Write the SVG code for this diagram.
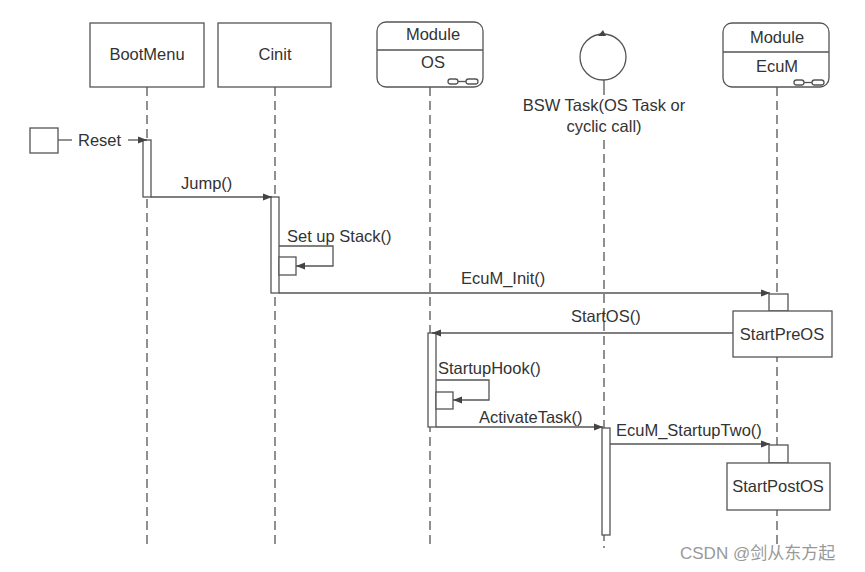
<svg xmlns="http://www.w3.org/2000/svg" width="865" height="572" viewBox="0 0 865 572">
<defs>
<style>
.b{fill:#fff;stroke:#555;stroke-width:1.3}
.l{fill:none;stroke:#555;stroke-width:1.3}
.d{fill:none;stroke:#555;stroke-width:1.3;stroke-dasharray:9,5}
.a{fill:none;stroke:#555;stroke-width:1.3;marker-end:url(#ar)}
text{font-family:"Liberation Sans",Arial,sans-serif;font-size:16.5px;fill:#333}
.c{text-anchor:middle}
</style>
<marker id="ar" viewBox="0 0 10 10" refX="10" refY="5" markerWidth="7" markerHeight="7" orient="auto"><path d="M0,1 L10,5 L0,9 z" fill="#444"/></marker>
</defs>
<rect width="865" height="572" fill="#fff"/>
<g id="lifelines">
<path class="d" d="M147,87V548M275,87V548M430,87V548M777,87V548M604,140V548"/>
<path class="l" d="M604,80V95"/>
</g>
<g id="bootmenu"><rect class="b" x="90" y="23" width="114" height="64"/><text class="c" x="147" y="60">BootMenu</text></g>
<g id="cinit"><rect class="b" x="218" y="23" width="113" height="64"/><text class="c" x="275" y="60">Cinit</text></g>
<g id="os"><rect class="b" x="377" y="22" width="106" height="65" rx="9"/><path class="l" d="M377,50H483"/><text class="c" x="433" y="40">Module</text><text class="c" x="433" y="68">OS</text><rect class="l" x="448" y="79" width="10" height="5" rx="2.5"/><rect class="l" x="466" y="79" width="12" height="5" rx="2.5"/><path class="l" d="M458,81.5H466"/></g>
<g id="bsw"><circle class="l" cx="603" cy="57" r="23"/><path d="M598,36 L603,30 L606,36 z" fill="#444"/><text class="c" x="604" y="111">BSW Task(OS Task or</text><text class="c" x="604" y="132">cyclic call)</text></g>
<g id="ecum"><rect class="b" x="723" y="23" width="106" height="64" rx="9"/><path class="l" d="M723,52H829"/><text class="c" x="777" y="43">Module</text><text class="c" x="777" y="72">EcuM</text><rect class="l" x="794" y="80" width="10" height="5" rx="2.5"/><rect class="l" x="812" y="80" width="12" height="5" rx="2.5"/><path class="l" d="M804,82.5H812"/></g>
<g id="reset"><rect class="b" x="30" y="128" width="28" height="25"/><path class="l" d="M58,140H72"/><text x="78" y="146">Reset</text></g>
<g id="activations">
<rect class="b" x="143" y="140" width="8" height="57"/>
<rect class="b" x="271" y="197" width="8" height="96"/>
<rect class="b" x="279" y="257" width="17" height="18"/>
<rect class="b" x="769" y="294" width="19" height="17"/>
<rect class="b" x="428" y="333" width="8" height="94"/>
<rect class="b" x="436" y="392" width="17" height="17"/>
<rect class="b" x="602" y="428" width="8" height="107"/>
<rect class="b" x="769" y="445" width="19" height="18"/>
</g>
<g id="startpreos"><rect class="b" x="733" y="311" width="99" height="46"/><text class="c" x="782" y="340">StartPreOS</text></g>
<g id="startpostos"><rect class="b" x="727" y="463" width="103" height="47"/><text class="c" x="778" y="492">StartPostOS</text></g>
<g id="connectors">
<path class="a" d="M128,140H147"/>
<path class="a" d="M151,197H272"/>
<path class="a" d="M279,246H333V266H296"/>
<path class="a" d="M279,293H770"/>
<path class="a" d="M733,333H432"/>
<path class="a" d="M436,380H489V400H453"/>
<path class="a" d="M436,427H603"/>
<path class="a" d="M610,444H770"/>
</g>
<g id="labels">
<text x="181" y="189">Jump()</text>
<text x="287" y="242">Set up Stack()</text>
<text x="461" y="284">EcuM_Init()</text>
<text x="571" y="322">StartOS()</text>
<text x="438" y="374">StartupHook()</text>
<text x="479" y="423">ActivateTask()</text>
<text x="616" y="436">EcuM_StartupTwo()</text>
<text x="680" y="559" style="fill:#999;font-size:17px;font-family:'Liberation Sans','Noto Sans CJK SC',sans-serif">CSDN @剑从东方起</text>
</g>
</svg>
